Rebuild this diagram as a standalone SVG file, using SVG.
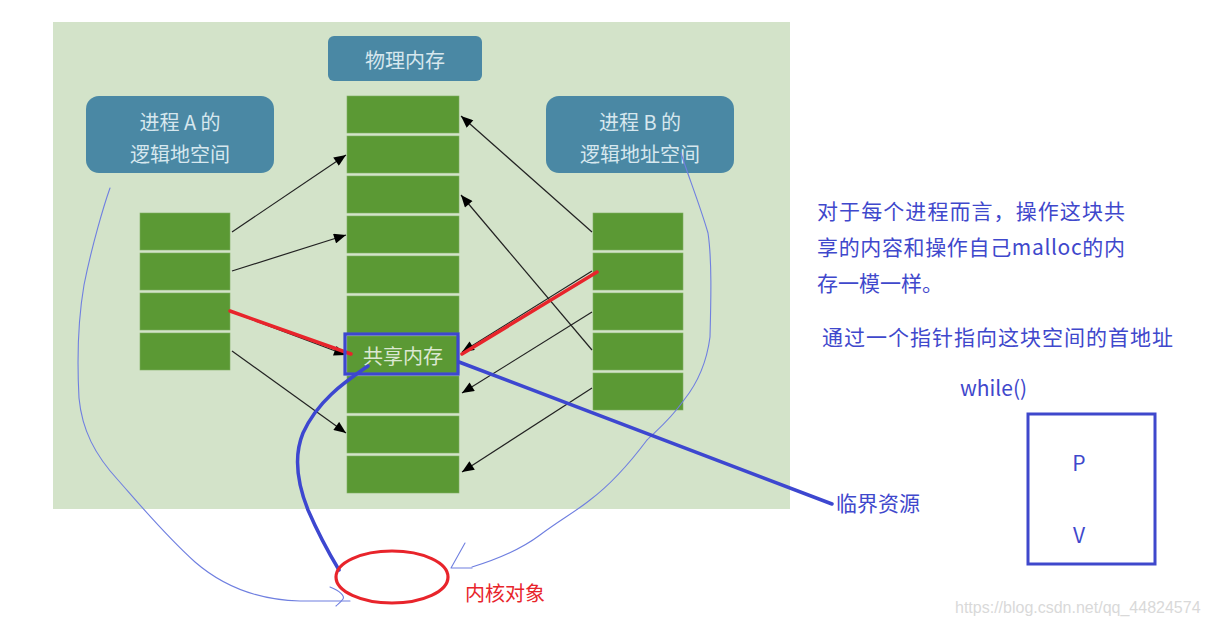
<svg xmlns="http://www.w3.org/2000/svg" width="1208" height="627" viewBox="0 0 1208 627">
<style>
.blk{fill:#5b9934;stroke:#7fae62;stroke-width:0.6}
.hdr{fill:#4a88a4}
.ht{font-family:"Noto Sans CJK SC","Noto Sans",sans-serif;font-size:20px;fill:#d6e7ee;text-anchor:middle}
.note{font-family:"Noto Sans CJK SC","Noto Sans",sans-serif;font-size:21px;fill:#3f48cc}
.arr{stroke:#222;stroke-width:1.2;fill:none;marker-end:url(#ah)}
.red{stroke:#e8242b;stroke-width:3.5;stroke-linecap:round;fill:none}
.hand{stroke:#6f7fe0;stroke-width:1.1;fill:none;stroke-linejoin:round;stroke-linecap:round}
</style>
<defs>
<marker id="ah" viewBox="0 0 12 10" refX="12" refY="5" markerWidth="13" markerHeight="10" orient="auto" markerUnits="userSpaceOnUse"><path d="M0,0 L12,5 L0,10 z" fill="#000"/></marker>
</defs>
<rect width="1208" height="627" fill="#ffffff"/>
<rect id="panel" x="53" y="22" width="737" height="487" fill="#d3e3c9"/>

<g id="hdr-phys"><rect class="hdr" x="328" y="36" width="154" height="45" rx="6"/><text class="ht" x="405" y="68">物理内存</text></g>
<g id="hdr-a"><rect class="hdr" x="86" y="96" width="188" height="77" rx="13"/><text class="ht" x="180" y="130">进程 A 的</text><text class="ht" x="180" y="162">逻辑地空间</text></g>
<g id="hdr-b"><rect class="hdr" x="546" y="96" width="188" height="77" rx="13"/><text class="ht" x="640" y="130">进程 B 的</text><text class="ht" x="640" y="162">逻辑地址空间</text></g>

<g id="col-a">
<rect class="blk" x="140" y="213" width="90" height="37"/>
<rect class="blk" x="140" y="253" width="90" height="37"/>
<rect class="blk" x="140" y="293" width="90" height="37"/>
<rect class="blk" x="140" y="333" width="90" height="37"/>
</g>
<g id="col-phys">
<rect class="blk" x="347" y="96" width="112" height="37"/>
<rect class="blk" x="347" y="136" width="112" height="37"/>
<rect class="blk" x="347" y="176" width="112" height="37"/>
<rect class="blk" x="347" y="216" width="112" height="37"/>
<rect class="blk" x="347" y="256" width="112" height="37"/>
<rect class="blk" x="347" y="296" width="112" height="37"/>
<rect class="blk" x="347" y="336" width="112" height="37"/>
<rect class="blk" x="347" y="376" width="112" height="37"/>
<rect class="blk" x="347" y="416" width="112" height="37"/>
<rect class="blk" x="347" y="456" width="112" height="37"/>
</g>
<g id="col-b">
<rect class="blk" x="593" y="213" width="90" height="37"/>
<rect class="blk" x="593" y="253" width="90" height="37"/>
<rect class="blk" x="593" y="293" width="90" height="37"/>
<rect class="blk" x="593" y="333" width="90" height="37"/>
<rect class="blk" x="593" y="373" width="90" height="37"/>
</g>

<g id="connectors">
<line class="arr" x1="232" y1="232" x2="346" y2="155"/>
<line class="arr" x1="232" y1="271" x2="346" y2="235"/>
<line class="arr" x1="232" y1="312" x2="346" y2="355"/>
<line class="arr" x1="232" y1="351" x2="346" y2="433"/>
<line class="arr" x1="592" y1="232" x2="461" y2="116"/>
<line class="arr" x1="592" y1="350" x2="461" y2="195"/>
<line class="arr" x1="592" y1="271" x2="462" y2="352"/>
<line class="arr" x1="592" y1="312" x2="462" y2="393"/>
<line class="arr" x1="592" y1="388" x2="462" y2="472"/>
<line class="red" x1="230" y1="311" x2="351" y2="354"/>
<line class="red" x1="597" y1="272" x2="462" y2="354"/>
<path class="hand" d="M110,188 C104,205 92,245 84,285 C78,320 77,360 79,398 C82,430 95,455 118,480 C140,505 165,535 195,562 C225,588 260,600 300,601 L350,601"/>
<path class="hand" d="M330,587 C340,591 345,596 343,599 C341,602 338,604 336,606"/>
<path class="hand" d="M681,153 C686,170 700,205 708,233 C712,260 711,300 710,337 C707,360 700,380 684,400 C670,420 655,432 647,440 C632,460 610,485 590,500 C575,512 560,520 540,535 C520,550 495,560 472,567"/>
<path class="hand" d="M465,543 L451,568 L472,568"/>
</g>

<g id="shared">
<rect x="345" y="334" width="113" height="40" fill="none" stroke="#3d47d0" stroke-width="3.2"/>
<text x="403" y="364" font-family="'Noto Sans CJK SC','Noto Sans',sans-serif" font-size="20" fill="#dbe8d2" text-anchor="middle">共享内存</text>
</g>

<g id="blue-links">
<line x1="459" y1="362" x2="832" y2="504" stroke="#3d47d0" stroke-width="3.5" stroke-linecap="round"/>
<path d="M368,366 C345,382 318,400 303,433 C294,455 296,480 308,510 C318,533 330,555 339,570" fill="none" stroke="#3d47d0" stroke-width="3.5" stroke-linecap="round"/>
</g>

<g id="kernel">
<ellipse cx="392" cy="577" rx="56" ry="26" fill="none" stroke="#e8242b" stroke-width="3.2"/>
<text x="465" y="601" font-family="'Noto Sans CJK SC','Noto Sans',sans-serif" font-size="20" fill="#e8242b">内核对象</text>
</g>

<g id="critical"><text class="note" x="836" y="511">临界资源</text></g>

<g id="notes">
<text class="note" x="817" y="219" textLength="308">对于每个进程而言，操作这块共</text>
<text class="note" x="817" y="255" textLength="308">享的内容和操作自己malloc的内</text>
<text class="note" x="817" y="291">存一模一样。</text>
<text class="note" x="822" y="345" textLength="351">通过一个指针指向这块空间的首地址</text>
<text class="note" x="960" y="396">while()</text>
</g>

<g id="pv">
<rect x="1028" y="414" width="127" height="150" fill="none" stroke="#3f48cc" stroke-width="3"/>
<text class="note" x="1079" y="471" text-anchor="middle">P</text>
<text class="note" x="1079" y="543" text-anchor="middle">V</text>
</g>

<text x="955" y="613" font-family="'Liberation Sans',Arial,sans-serif" font-size="16" fill="#d9d9d9">https://blog.csdn.net/qq_44824574</text>
</svg>
